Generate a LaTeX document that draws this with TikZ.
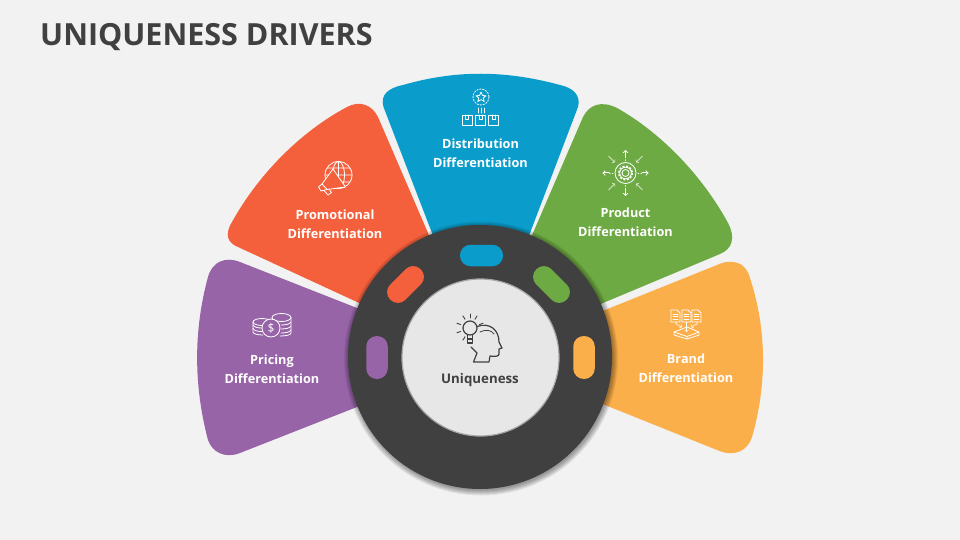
\documentclass[tikz,border=0pt]{standalone}
\usepackage{fontspec}
\setmainfont{Open Sans}
\usepackage{tikz}
\usetikzlibrary{positioning}
\usepackage{xcolor}

\definecolor{pagegray}{HTML}{F2F2F2}
\definecolor{coregray}{HTML}{E7E7E7}
\definecolor{darkgray}{HTML}{404040}
\definecolor{driverblue}{HTML}{0A9DCB}
\definecolor{driverred}{HTML}{F5603C}
\definecolor{drivergreen}{HTML}{6EAA43}
\definecolor{driverpurple}{HTML}{9764A8}
\definecolor{driveryellow}{HTML}{FBAF4B}

\tikzset{
	bladelabel/.style={text=white, align=center, font=\fontsize{12.7}{19}\selectfont\bfseries, inner sep=0pt},
	pillshape/.style={minimum width=43pt, minimum height=21.5pt, rounded corners=10.5pt, inner sep=0pt},
	iconwhite/.style={draw=white, line width=0.8pt, line join=round, line cap=round},
	icondark/.style={draw=darkgray, line width=1.2pt, line join=round, line cap=round}
}

\begin{document}
\begin{tikzpicture}[x=1pt, y=-1pt]
	\useasboundingbox[fill=pagegray] (0,0) rectangle (960,540);
	\node[anchor=west, text=darkgray, font=\fontsize{30.5}{36}\selectfont\bfseries, inner sep=0pt] (title) at (40,37) {UNIQUENESS DRIVERS};

	% blades
	\fill[driverblue] (432,233)--(383.5,107) .. controls (380,95) and (388,88) .. (403,85) .. controls (455,70) and (505,70) .. (560,85) .. controls (574,88) and (581,96) .. (578,107)--(530,233)--(480,357)--cycle;
	\fill[driverred] (428,233)--(378,117) .. controls (372,105) and (360,100) .. (347,107) .. controls (300,132) and (258,175) .. (232,222) .. controls (224,235) and (228,243) .. (238,247)--(357,302)--(480,357)--cycle;
	\fill[drivergreen] (533,233)--(583,117) .. controls (589,105) and (601,100) .. (617,108) .. controls (660,132) and (702,175) .. (728,223) .. controls (736,238) and (732,249) .. (720,254)--(603,303)--(480,357)--cycle;
	\fill[driverpurple] (357,308)--(240,262) .. controls (225,256) and (212,262) .. (208,277) .. controls (193.5,330) and (193.5,385) .. (208,440) .. controls (212,452) and (225,459) .. (240,453)--(357,407)--(480,357)--cycle;
	\fill[driveryellow] (605,310)--(717,265) .. controls (732,258) and (746,262) .. (750,278) .. controls (767,330) and (767,385) .. (752,437) .. controls (748,450) and (735,458) .. (717,450)--(605,405)--(480,357)--cycle;

	\node[bladelabel] (promotional) at (335,224) {Promotional\\Differentiation};
	\node[bladelabel] (distribution) at (480.5,153) {Distribution\\Differentiation};
	\node[bladelabel] (product) at (625.5,222) {Product\\Differentiation};
	\node[bladelabel] (pricing) at (272,369) {Pricing\\Differentiation};
	\node[bladelabel] (brand) at (686,368) {Brand\\Differentiation};

	% hub
	\foreach \spread in {1,2,...,6}
		\fill[black, opacity=0.07] (481,358.5) circle (131+\spread);
	\node[circle, fill=darkgray, minimum size=264pt, inner sep=0pt] (ring) at (480,357) {};
	\node[circle, fill=coregray, draw=gray!70, line width=1.2pt, minimum size=157pt, inner sep=0pt] (core) at (480.5,357.5) {};

	\node[pillshape, fill=driverblue] (pillblue) at (481.5,255.5) {};
	\node[pillshape, fill=driverred, rotate=45] (pillred) at (405.5,284.5) {};
	\node[pillshape, fill=drivergreen, rotate=-45] (pillgreen) at (551.5,284.5) {};
	\node[pillshape, fill=driverpurple, rotate=90] (pillpurple) at (377,357.5) {};
	\node[pillshape, fill=driveryellow, rotate=90] (pillyellow) at (584,357.5) {};

	\node[text=darkgray, font=\fontsize{13.3}{16}\selectfont\bfseries, inner sep=0pt] (uniqueness) at (480,380) {Uniqueness};

	% head and bulb
	\draw[icondark] (470,328) circle (7);
	\draw[icondark] (467.5,335)--(467.5,343)--(472.5,343)--(472.5,335) (467.5,339)--(472.5,339);
	\draw[icondark] (477,326.5) .. controls (490,322) and (499,330) .. (499,342)--(502,348)--(499,349)--(499,354) .. controls (499,356) and (496,357) .. (490,356)--(489,362)--(473.5,362)--(477,353)--(471,347);
	\draw[icondark, line width=0.8pt] (480,332) .. controls (486,329) and (491,330) .. (494,334);
	\foreach \ang in {160,200,240,270,300,340,120}
		\draw[icondark, line width=0.9pt] (470,328)++(\ang:10)--++(\ang:4);

	% megaphone and globe
	\draw[iconwhite] (338.5,175) circle (13.5);
	\draw[iconwhite] (338.5,175) ellipse (6 and 13.5) (338.5,161.5)--(338.5,188.5) (325,175)--(352,175) (327,168)--(350,168) (327,182)--(350,182);
	\draw[iconwhite, fill=driverred] (333,169)--(345.5,187)--(327,189.5)--(322,184)--cycle;
	\draw[iconwhite, fill=driverred] (322,184)--(318.5,187)--(321,191)--(327,189.5)--cycle;
	\draw[iconwhite] (324,190.5)--(328,195)--(331.5,192.5)--(329,189);

	% star and boxes
	\draw[iconwhite, dash pattern=on 1.5pt off 1.5pt] (481,97) circle (8);
	\draw[iconwhite] (481,92)--(482.5,95.5)--(486,95.8)--(483.2,98)--(484.2,101.5)--(481,99.6)--(477.8,101.5)--(478.8,98)--(476,95.8)--(479.5,95.5)--cycle;
	\draw[iconwhite] (478,108)--(478,113) (481,108)--(481,113) (484,108)--(484,113);
	\foreach \boxx in {462,475.5,488.5}{
		\draw[iconwhite] (\boxx,115) rectangle ++(10,10);
		\draw[iconwhite] (\boxx+3.5,115)--++(0,4)--++(3,0)--++(0,-4);
	}

	% gear and arrows
	\draw[iconwhite] (625.5,173) circle (10.5) (625.5,173) circle (3.5) (625.5,173) circle (5.8);
	\draw[iconwhite, line cap=butt, line width=1.4pt, dash pattern=on 2pt off 1.6pt] (625.5,173) circle (6.8);
	\foreach \ang in {0,90,180,270}{
		\draw[iconwhite, dotted] (625.5,173)++(\ang:12.5)--++(\ang:3.5);
		\draw[iconwhite, line width=1pt, ->] (625.5,173)++(\ang:16.5)--++(\ang:6.5);
	}
	\foreach \ang in {45,135,225,315}
		\draw[iconwhite, line width=0.6pt, <-] (625.5,173)++(\ang:15)--++(\ang:9);

	% coins
	\draw[iconwhite] (281.5,317.5) ellipse (9.5 and 4);
	\draw[iconwhite] (291,317.5)--(291,333) .. controls (291,335) and (286,336) .. (280,336);
	\foreach \stacky in {322,326,330}
		\draw[iconwhite] (291,\stacky) .. controls (290,\stacky+2) and (286,\stacky+3) .. (281,\stacky+3);
	\draw[iconwhite] (262,322) ellipse (9 and 3.5);
	\draw[iconwhite] (253,322)--(253,332) .. controls (253,334) and (258,335) .. (263,335);
	\foreach \stacky in {325,328.5}
		\draw[iconwhite] (253,\stacky) .. controls (254,\stacky+2) and (257,\stacky+3) .. (262,\stacky+3);
	\draw[iconwhite, fill=driverpurple] (271,328) circle (9);
	\node[text=white, font=\fontsize{12}{12}\selectfont, inner sep=0pt] (dollar) at (271,328) {\$};

	% documents and tray
	\foreach \docx in {671,682,692}{
		\draw[iconwhite, fill=driveryellow] (\docx,310)--(\docx+6,310)--(\docx+9,313)--(\docx+9,322)--(\docx,322)--cycle;
		\draw[iconwhite, line width=0.6pt] (\docx+2,314)--(\docx+7,314) (\docx+2,316.5)--(\docx+7,316.5) (\docx+2,319)--(\docx+7,319);
	}
	\draw[iconwhite] (674,332)--(687,327)--(699,332)--(687,336.5)--cycle;
	\draw[iconwhite] (674,332)--(674,335)--(687,339)--(699,335)--(699,332) (687,336.5)--(687,339);
	\draw[iconwhite, line width=0.6pt, ->] (686.5,322)--(686.5,332);
	\draw[iconwhite, line width=0.6pt, ->] (676,322)--(676,324)--(682,327);
	\draw[iconwhite, line width=0.6pt, ->] (697,322)--(697,324)--(691,327);
\end{tikzpicture}
\end{document}
